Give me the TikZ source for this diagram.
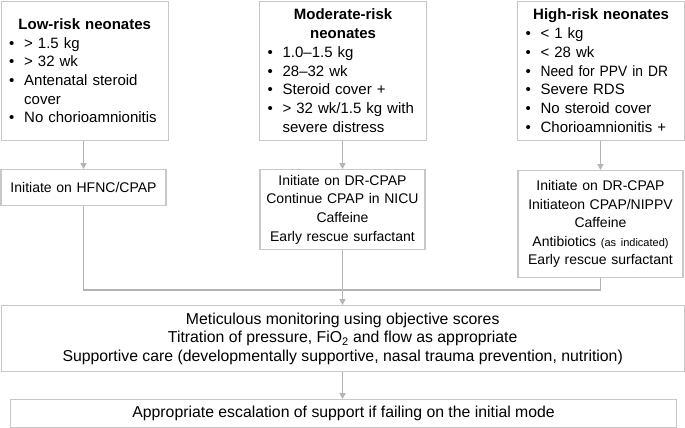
\documentclass[tikz,border=0pt]{standalone}
\usepackage{fontspec}
\setmainfont{Liberation Sans}
\usetikzlibrary{arrows.meta}
\definecolor{boxc}{HTML}{C8C8C8}
\definecolor{linec}{HTML}{B4B4B4}
\newcommand{\bul}[1]{\par\noindent\makebox[15pt][l]{\textbullet}#1\par}
\newcommand{\cont}[1]{\par\noindent\hspace*{15pt}#1\par}
\tikzset{
  topbox/.style={draw=boxc, line width=1.2pt, anchor=north west, inner xsep=8pt, inner ysep=0pt,
    text width=151pt, minimum height=139pt, font=\fontsize{15}{18.7}\selectfont},
  midbox/.style={draw=boxc, line width=1.2pt, anchor=north, inner sep=0pt, align=center,
    text width=165pt, font=\fontsize{14}{18.6}\selectfont},
  wide/.style={draw=boxc, line width=1.2pt, anchor=north west, inner sep=0pt, align=center,
    font=\fontsize{15.8}{18.6}\selectfont},
  conn/.style={draw=linec, line width=1.8pt},
  arr/.style={conn, -{Triangle[width=6pt,length=6pt]}},
}
\begin{document}
\begin{tikzpicture}[x=1pt,y=-1pt]
\useasboundingbox (0,0) rectangle (685,428);
% top boxes
\node[topbox] (low) at (0.6,0.6) {{\centering\bfseries Low-risk neonates\par}
\bul{> 1.5 kg}
\bul{> 32 wk}
\bul{Antenatal steroid}
\cont{cover}
\bul{No chorioamnionitis}};
\node[topbox] (mod) at (259,0.6) {{\centering\bfseries Moderate-risk\\neonates\par}
\bul{1.0–1.5 kg}
\bul{28–32 wk}
\bul{Steroid cover +}
\bul{> 32 wk/1.5 kg with}
\cont{severe distress}};
\node[topbox] (high) at (517,0.6) {{\centering\bfseries High-risk neonates\par}
\bul{< 1 kg}
\bul{< 28 wk}
\bul{\mbox{\addfontfeature{FakeStretch=0.92}\fontsize{15}{18.7}\selectfont Need for PPV in DR}}
\bul{Severe RDS}
\bul{No steroid cover}
\bul{Chorioamnionitis +}};
% second row
\node[midbox, minimum height=36pt] (lowi) at (83.5,169) {Initiate on HFNC/CPAP};
\node[midbox, minimum height=80pt] (modi) at (342.5,169) {Initiate on DR-CPAP\\Continue CPAP in NICU\\Caffeine\\Early rescue surfactant};
\node[midbox, minimum height=107pt] (highi) at (600.5,170) {Initiate on DR-CPAP\\Initiateon CPAP/NIPPV\\Caffeine\\Antibiotics {\fontsize{11}{13}\selectfont (as indicated)}\\Early rescue surfactant};
% bottom boxes
\node[wide, minimum width=683pt, minimum height=66pt] (mon) at (0.6,305) {Meticulous monitoring using objective scores\\Titration of pressure, FiO\textsubscript{2} and flow as appropriate\\Supportive care (developmentally supportive, nasal trauma prevention, nutrition)};
\node[wide, minimum width=666pt, minimum height=28pt] (esc) at (10,399) {Appropriate escalation of support if failing on the initial mode};
% connectors
\coordinate (jl) at (lowi.south |- 0,290);
\coordinate (jm) at (modi.south |- 0,290);
\coordinate (jr) at (highi.south |- 0,290);
\draw[arr] (low.south -| lowi.north) -- (lowi.north);
\draw[arr] (mod.south -| modi.north) -- (modi.north);
\draw[arr] (high.south -| highi.north) -- (highi.north);
\draw[conn] (lowi.south) -- (jl) -- (jr) -- (highi.south);
\draw[conn] (modi.south) -- (jm);
\draw[arr] (jm) -- (mon.north -| jm);
\draw[arr] (mon.south -| jm) -- (esc.north -| jm);
\end{tikzpicture}
\end{document}
